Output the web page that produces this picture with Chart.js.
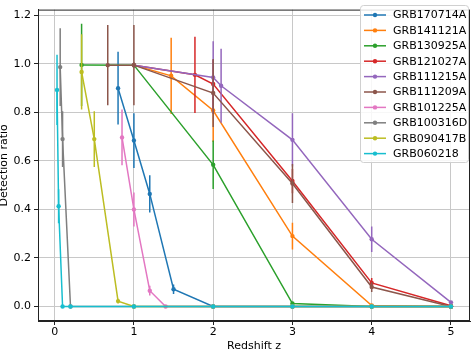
<!DOCTYPE html>
<html>
<head>
<meta charset="utf-8">
<script src="https://cdn.jsdelivr.net/npm/chart.js@4.4.0/dist/chart.umd.min.js"></script>
<style>
  html, body { margin: 0; padding: 0; background: #fff; }
  #chart { display: block; }
</style>
</head>
<body>
<canvas id="chart" width="474" height="351"></canvas>
<script>
// Detection ratio vs redshift, one series per GRB
const grbNames = ['GRB170714A', 'GRB141121A', 'GRB130925A', 'GRB121027A', 'GRB111215A',
                  'GRB111209A', 'GRB101225A', 'GRB100316D', 'GRB090417B', 'GRB060218'];
const grbColors = ['#1f77b4', '#ff7f0e', '#2ca02c', '#d62728', '#9467bd',
                   '#8c564b', '#e377c2', '#7f7f7f', '#bcbd22', '#17becf'];

const z170714A = [0.8, 1.0, 1.2, 1.5, 2, 3, 4, 5];
const r170714A = [0.90, 0.684, 0.464, 0.071, 0, 0, 0, 0];
const e170714A = [0.15, 0.113, 0.077, 0.02, 0, 0, 0, 0];

const z141121A = [1.0, 1.47, 2, 3, 4, 5];
const r141121A = [0.995, 0.951, 0.808, 0.29, 0.004, 0];
const e141121A = [0.01, 0.157, 0.13, 0.055, 0.005, 0];

const z130925A = [0.34, 1.0, 2, 3, 4, 5];
const r130925A = [0.996, 0.995, 0.584, 0.012, 0, 0];
const e130925A = [0.17, 0.01, 0.1, 0.005, 0, 0];

const z121027A = [1.0, 1.77, 2, 3, 4, 5];
const r121027A = [0.995, 0.955, 0.917, 0.517, 0.097, 0.003];
const e121027A = [0.01, 0.157, 0.1, 0.05, 0.02, 0];

const z111215A = [1.0, 2.0, 2.1, 3, 4, 5];
const r111215A = [0.995, 0.944, 0.91, 0.687, 0.277, 0.017];
const e111215A = [0.01, 0.15, 0.153, 0.11, 0.053, 0.005];

const z111209A = [0.67, 1.0, 2, 3, 4, 5];
const r111209A = [0.995, 0.995, 0.88, 0.507, 0.08, 0];
const e111209A = [0.165, 0.165, 0.14, 0.08, 0.02, 0];

const z101225A = [0.85, 1.0, 1.2, 1.4, 2, 3, 4, 5];
const r101225A = [0.697, 0.40, 0.065, 0, 0, 0, 0, 0];
const e101225A = [0.115, 0.07, 0.02, 0, 0, 0, 0, 0];

const z100316D = [0.07, 0.1, 0.2, 1, 2, 3, 4, 5];
const r100316D = [0.987, 0.69, 0, 0, 0, 0, 0, 0];
const e100316D = [0.16, 0.115, 0, 0, 0, 0, 0, 0];

const z090417B = [0.34, 0.5, 0.8, 1.0, 2, 3, 4, 5];
const r090417B = [0.967, 0.69, 0.022, 0, 0, 0, 0, 0];
const e090417B = [0.155, 0.115, 0.01, 0, 0, 0, 0, 0];

const z060218 = [0.03, 0.05, 0.1, 0.2, 1, 2, 3, 4, 5];
const r060218 = [0.893, 0.413, 0, 0, 0, 0, 0, 0, 0];
const e060218 = [0.145, 0.07, 0, 0, 0, 0, 0, 0, 0];

const xTicks = [0, 1, 2, 3, 4, 5];
const yTicks = [0.0, 0.2, 0.4, 0.6, 0.8, 1.0, 1.2];

const seriesZ = [z170714A, z141121A, z130925A, z121027A, z111215A, z111209A, z101225A, z100316D, z090417B, z060218];
const seriesR = [r170714A, r141121A, r130925A, r121027A, r111215A, r111209A, r101225A, r100316D, r090417B, r060218];
const seriesE = [e170714A, e141121A, e130925A, e121027A, e111215A, e111209A, e101225A, e100316D, e090417B, e060218];

const FONT = 'DejaVu Sans';

const datasets = grbNames.map((name, i) => ({
    label: name,
    data: seriesZ[i].map((z, k) => ({ x: z, y: seriesR[i][k] })),
    errors: seriesE[i],
    borderColor: grbColors[i],
    backgroundColor: grbColors[i],
    borderWidth: 1.5,
    pointRadius: 2.2,
    pointBorderWidth: 0,
    tension: 0,
    order: grbNames.length - 1 - i // later series drawn on top, like matplotlib
}));

// vertical error bars, drawn right after each dataset's line
const errorBars = {
    id: 'errorBars',
    afterDatasetDraw(chart, args) {
        const ds = chart.data.datasets[args.index];
        const xs = chart.scales.x, ys = chart.scales.y;
        const ctx = chart.ctx;
        ctx.save();
        ctx.beginPath();
        ctx.rect(chart.chartArea.left, chart.chartArea.top, chart.chartArea.width, chart.chartArea.height);
        ctx.clip();
        ctx.strokeStyle = ds.borderColor;
        ctx.lineWidth = 1.5;
        ds.data.forEach((p, k) => {
            const e = ds.errors[k];
            if (!e) return;
            const px = xs.getPixelForValue(p.x);
            ctx.beginPath();
            ctx.moveTo(px, ys.getPixelForValue(p.y - e));
            ctx.lineTo(px, ys.getPixelForValue(p.y + e));
            ctx.stroke();
        });
        ctx.restore();
    }
};

// frame + legend box in the upper right, matplotlib style
const frameAndLegend = {
    id: 'frameAndLegend',
    afterDraw(chart) {
        const ctx = chart.ctx;
        const a = chart.chartArea;
        ctx.save();
        ctx.strokeStyle = '#222';
        ctx.lineWidth = 1;
        ctx.strokeRect(a.left + 0.5, a.top + 0.5, a.width - 1, a.height - 1);

        const bx = 360, by = 5, bw = 108, bh = 157;
        ctx.fillStyle = 'rgba(255,255,255,0.85)';
        ctx.strokeStyle = '#d0d0d0';
        ctx.beginPath();
        ctx.roundRect(bx + 0.5, by + 0.5, bw, bh, 3);
        ctx.fill();
        ctx.stroke();

        ctx.font = '11px "' + FONT + '"';
        ctx.textBaseline = 'middle';
        ctx.textAlign = 'left';
        grbNames.forEach((name, i) => {
            const y = by + 10 + i * 15.4;
            ctx.strokeStyle = grbColors[i];
            ctx.fillStyle = grbColors[i];
            ctx.lineWidth = 1.5;
            ctx.beginPath();
            ctx.moveTo(bx + 4, y);
            ctx.lineTo(bx + 26, y);
            ctx.stroke();
            ctx.beginPath();
            ctx.arc(bx + 15, y, 2.2, 0, Math.PI * 2);
            ctx.fill();
            ctx.fillStyle = '#000';
            ctx.fillText(name, bx + 33, y + 0.5);
        });
        ctx.restore();
    }
};

new Chart(document.getElementById('chart').getContext('2d'), {
    type: 'line',
    data: { datasets: datasets },
    plugins: [errorBars, frameAndLegend],
    options: {
        responsive: false,
        devicePixelRatio: 1,
        animation: false,
        layout: { padding: { left: 0, right: 1, top: 0, bottom: 0 } },
        plugins: {
            legend: { display: false },
            tooltip: { enabled: false }
        },
        scales: {
            x: {
                type: 'linear',
                min: -0.21,
                max: 5.24,
                afterFit: s => { s.height = 30; },
                afterBuildTicks: s => { s.ticks = xTicks.map(v => ({ value: v })); },
                ticks: {
                    color: '#000', padding: 1, maxRotation: 0,
                    font: { family: FONT, size: 11 },
                    callback: v => String(v)
                },
                grid: { color: '#c8c8c8', lineWidth: 1, tickColor: '#222', tickLength: 4 },
                border: { color: '#222' },
                title: {
                    display: true, text: 'Redshift z', color: '#000',
                    font: { family: FONT, size: 11 },
                    padding: { top: 0, bottom: -2 }
                }
            },
            y: {
                type: 'linear',
                min: -0.06,
                max: 1.224,
                afterFit: s => { s.width = 38; },
                afterBuildTicks: s => { s.ticks = yTicks.map(v => ({ value: v })); },
                ticks: {
                    color: '#000', padding: 3,
                    font: { family: FONT, size: 11 },
                    callback: v => v.toFixed(1)
                },
                grid: { color: '#c8c8c8', lineWidth: 1, tickColor: '#222', tickLength: 4 },
                border: { color: '#222' },
                title: {
                    display: true, text: 'Detection ratio', color: '#000',
                    font: { family: FONT, size: 11 },
                    padding: { top: -2, bottom: 0 }
                }
            }
        }
    }
});
</script>
</body>
</html>
